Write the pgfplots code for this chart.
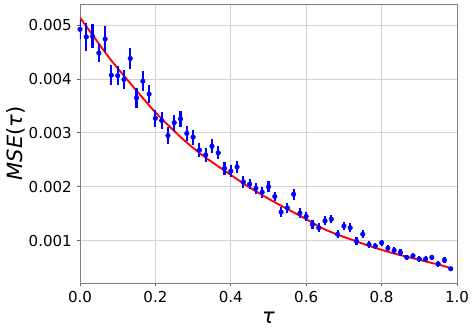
\documentclass[border=0pt]{standalone}
\usepackage{fontspec}
\setmainfont{DejaVu Sans}
\usepackage{pgfplots}
\usepackage{pgfplotstable}
\pgfplotsset{compat=1.18}
\pgfplotstableread{
x y e
0.00000 0.00492 0.00018
0.01667 0.00478 0.00026
0.03333 0.00479 0.00022
0.05000 0.00448 0.00017
0.06667 0.00474 0.00024
0.08333 0.00407 0.00019
0.10000 0.00406 0.00018
0.11667 0.00399 0.00018
0.13333 0.00438 0.00019
0.15000 0.00365 0.00018
0.16667 0.00396 0.00018
0.18333 0.00372 0.00017
0.20000 0.00327 0.00016
0.21667 0.00323 0.00016
0.23333 0.00295 0.00015
0.25000 0.00319 0.00015
0.26667 0.00326 0.00015
0.28333 0.00299 0.00014
0.30000 0.00292 0.00014
0.31667 0.00268 0.00013
0.33333 0.00259 0.00013
0.35000 0.00275 0.00013
0.36667 0.00263 0.00012
0.38333 0.00234 0.00012
0.40000 0.00229 0.00011
0.41667 0.00237 0.00011
0.43333 0.00209 0.00011
0.45000 0.00205 0.00010
0.46667 0.00197 0.00010
0.48333 0.00190 0.00010
0.50000 0.00200 0.00010
0.51667 0.00182 0.00009
0.53333 0.00153 0.00009
0.55000 0.00161 0.00009
0.56667 0.00186 0.00010
0.58333 0.00151 0.00009
0.60000 0.00145 0.00008
0.61667 0.00130 0.00008
0.63333 0.00124 0.00008
0.65000 0.00137 0.00008
0.66667 0.00140 0.00008
0.68333 0.00112 0.00007
0.70000 0.00127 0.00008
0.71667 0.00124 0.00008
0.73333 0.00099 0.00007
0.75000 0.00112 0.00007
0.76667 0.00093 0.00006
0.78333 0.00090 0.00006
0.80000 0.00096 0.00006
0.81667 0.00086 0.00006
0.83333 0.00082 0.00006
0.85000 0.00078 0.00006
0.86667 0.00069 0.00005
0.88333 0.00072 0.00005
0.90000 0.00066 0.00005
0.91667 0.00066 0.00005
0.93333 0.00069 0.00005
0.95000 0.00057 0.00005
0.96667 0.00064 0.00005
0.98333 0.00048 0.00004
}\datatable
\pgfplotstableread{
x y
0.000 0.00514
0.040 0.00475
0.080 0.00437
0.120 0.00403
0.160 0.00370
0.200 0.00338
0.240 0.00310
0.280 0.00284
0.320 0.00261
0.360 0.00241
0.400 0.00222
0.440 0.00203
0.480 0.00186
0.520 0.00170
0.560 0.00155
0.600 0.00140
0.640 0.00124
0.680 0.00112
0.720 0.00102
0.760 0.00092
0.800 0.00083
0.840 0.00075
0.880 0.00068
0.920 0.00061
0.960 0.00054
0.983 0.00049
}\fittable
\begin{document}
\begin{tikzpicture}
\begin{axis}[
  name=main,
  scale only axis,
  width=282.75pt, height=209.25pt,
  xmin=0, xmax=1, ymin=0.000215, ymax=0.00539,
  xtick={0,0.2,0.4,0.6,0.8,1.0},
  ytick={0.001,0.002,0.003,0.004,0.005},
  scaled y ticks=false, scaled x ticks=false,
  /pgf/number format/assume math mode=true,
  xticklabel style={/pgf/number format/.cd, fixed, precision=1, zerofill},
  yticklabel style={/pgf/number format/.cd, fixed, precision=3, zerofill},
  tick label style={font=\fontsize{11.3}{13}\selectfont},
  tick align=outside, xtick pos=left, ytick pos=left,
  major tick length=2.6pt,
  tick style={black!60, line width=0.6pt},
  axis line style={black!50, line width=0.7pt},
  grid=major, grid style={gray!35, line width=0.6pt},
  xlabel={\textit{τ}}, ylabel={\textit{MSE}(\textit{τ})},
  every axis x label/.style={at={(axis description cs:0.5,-0.125)}, anchor=center, font=\fontsize{15.75}{18}\selectfont},
  every axis y label/.style={at={(axis description cs:-0.17,0.5)}, anchor=center, rotate=90, font=\fontsize{15.75}{18}\selectfont},
]
\addplot[red, line width=1.4pt, smooth] table[x=x, y=y] {\fittable};
\addplot[draw=blue, line width=1.6pt, -,
  quiver={u=0, v=2*\thisrow{e}, every arrow/.append style={draw=blue, line width=1.6pt}}]
  table[x=x, y expr=\thisrow{y}-\thisrow{e}] {\datatable};
\addplot[blue, only marks, mark=*, mark size=1.7pt]
  table[x=x, y=y] {\datatable};
\end{axis}
\pgfresetboundingbox
\path[use as bounding box] (main.south west) ++(-60pt,-37.5pt) rectangle ++(355.5pt,249.75pt);
\end{tikzpicture}
\end{document}
